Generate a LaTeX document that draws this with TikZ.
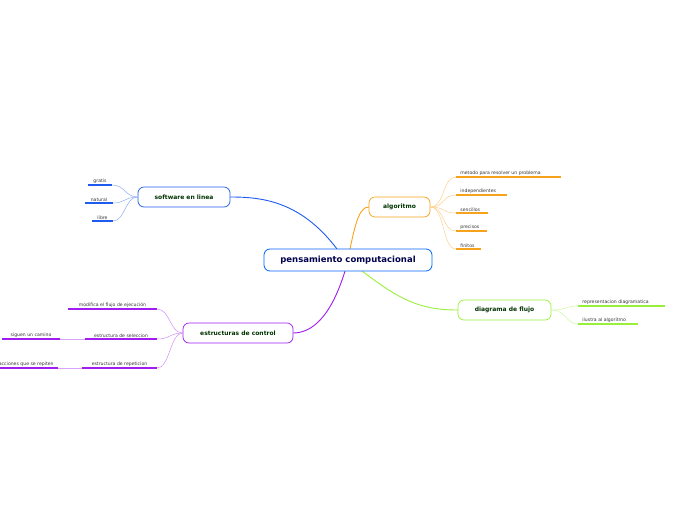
\documentclass[tikz,border=0pt]{standalone}
\usepackage{fontspec}
\setmainfont{DejaVu Sans}
\usetikzlibrary{calc}
\begin{document}
\begin{tikzpicture}[x=1pt, y=-1pt]
  \tikzset{
  main/.style={
    rectangle, rounded corners=6pt, draw, fill=white, line width=0.8pt,
    minimum width=168pt, minimum height=22pt,
    font=\fontsize{8.5}{10}\selectfont\bfseries, text=blue!30!black
  },
  branch/.style={
    rectangle, rounded corners=6pt, draw, fill=white, line width=0.7pt,
    minimum height=20pt, font=\fontsize{6}{7}\selectfont\bfseries,
    text=green!20!black
  },
  leaf/.style={
    font=\fontsize{4.6}{5.5}\selectfont, text=black!80, inner sep=1.2pt, anchor=south
  }
}
\useasboundingbox (0,0) rectangle (696,520);
\definecolor{cblue}{HTML}{1F5BEF}
\definecolor{corange}{HTML}{F7A21C}
\definecolor{cgreen}{HTML}{99F03A}
\definecolor{cpurple}{HTML}{A01CF0}

% main branches
\draw[cblue, line width=0.9pt] (337,249) .. controls (300,200) and (260,197) .. (230,197);
\draw[corange, line width=0.9pt] (350,249) .. controls (356,220) and (360,207) .. (369,207);
\draw[cgreen, line width=0.9pt] (362,271) .. controls (400,300) and (420,310) .. (458,310);
\draw[cpurple, line width=0.9pt] (345,271) .. controls (330,320) and (310,333) .. (293,333);

\node[main, draw=blue!60!cyan] (centro) at (348,260) {pensamiento computacional};
\node[branch, draw=cblue, minimum width=92pt] (soft) at (184,197) {software en linea};
\node[branch, draw=corange, minimum width=61pt] (algo) at (399.5,207) {algoritmo};
\node[branch, draw=cgreen, minimum width=93pt] (flujo) at (504.5,310) {diagrama de flujo};
\node[branch, draw=cpurple, minimum width=110pt] (estr) at (238,333) {estructuras de control};

% software en linea
\foreach \txt/\a/\b/\y [count=\i] in {gratis/88/112/185, natural/85/113/203, libre/92/113/221} {
  \coordinate (s\i-l) at (\a,\y);
  \coordinate (s\i-r) at (\b,\y);
  \draw[draw=cblue, line width=1.2pt] (s\i-l) -- (s\i-r);
  \node[leaf] at ($(s\i-l)!0.5!(s\i-r)$) {\txt};
  \draw[draw=cblue!50, line width=0.5pt] (soft.west) .. controls (125,197) and (125,\y) .. (s\i-r);
}

% algoritmo
\foreach \txt/\b/\y [count=\i] in {metodo para resolver un problema/561/177, independientes/507/195,
    sencillos/488/213, precisos/487/231, finitos/481/249} {
  \coordinate (a\i-l) at (456,\y);
  \coordinate (a\i-r) at (\b,\y);
  \draw[draw=corange, line width=1.2pt] (a\i-l) -- (a\i-r);
  \node[leaf, anchor=south west] at (459,\y) {\txt};
  \draw[draw=corange!50, line width=0.5pt] (algo.east) .. controls (445,207) and (442,\y) .. (a\i-l);
}

% diagrama de flujo
\foreach \txt/\b/\y [count=\i] in {representacion diagramatica/665/306, ilustra al algoritmo/638/324} {
  \coordinate (d\i-l) at (578,\y);
  \coordinate (d\i-r) at (\b,\y);
  \draw[draw=cgreen, line width=1.2pt] (d\i-l) -- (d\i-r);
  \node[leaf, anchor=south west] at (581,\y) {\txt};
  \draw[draw=cgreen!50, line width=0.5pt] (flujo.east) .. controls (566,310) and (566,\y) .. (d\i-l);
}

% estructuras de control
\foreach \txt/\a/\y [count=\i] in {modifica el flujo de ejecución/68/309, estructura de seleccion/85/339,
    estructura de repeticion/82/368} {
  \coordinate (e\i-l) at (\a,\y);
  \coordinate (e\i-r) at (157,\y);
  \draw[draw=cpurple, line width=1.2pt] (e\i-l) -- (e\i-r);
  \node[leaf] at ($(e\i-l)!0.5!(e\i-r)$) {\txt};
  \draw[draw=cpurple!50, line width=0.5pt] (estr.west) .. controls (170,333) and (170,\y) .. (e\i-r);
}
\coordinate (c1-l) at (2,339);
\coordinate (c1-r) at (60,339);
\draw[draw=cpurple, line width=1.2pt] (c1-l) -- (c1-r);
\node[leaf] at ($(c1-l)!0.5!(c1-r)$) {siguen un camino};
\draw[draw=cpurple!40, line width=0.5pt] (c1-r) -- (e2-l);
\coordinate (c2-l) at (-20,368);
\coordinate (c2-r) at (58,368);
\draw[draw=cpurple, line width=1.2pt] (c2-l) -- (c2-r);
\node[leaf, anchor=south east] at (55,368) {acciones que se repiten};
\draw[draw=cpurple!40, line width=0.5pt] (c2-r) -- (e3-l);
\end{tikzpicture}
\end{document}
